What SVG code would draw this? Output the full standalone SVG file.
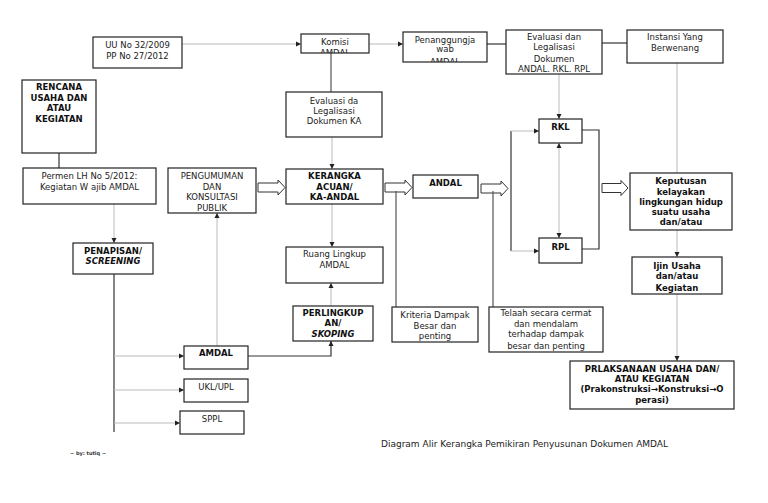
<svg xmlns="http://www.w3.org/2000/svg" width="768" height="503" viewBox="0 0 768 503">
<style>
.b{fill:#fff;stroke:#222;stroke-width:1.2}
.t{font-family:"DejaVu Sans",sans-serif;font-size:8.5px;fill:#222;text-anchor:middle}
.tb{font-family:"DejaVu Sans",sans-serif;font-size:8.5px;fill:#111;text-anchor:middle;font-weight:bold}
.lg{stroke:#bbb;stroke-width:1;fill:none}
.dk{stroke:#333;stroke-width:1.2;fill:none}
.md{stroke:#555;stroke-width:1.2;fill:none}
.ha{fill:#fff;stroke:#333;stroke-width:1}
</style>
<defs>
<marker id="ar" markerUnits="userSpaceOnUse" markerWidth="6" markerHeight="6" refX="5" refY="3" orient="auto"><path d="M0,0.5 L5,3 L0,5.5 z" fill="#222"/></marker>
<marker id="as" markerUnits="userSpaceOnUse" markerWidth="6" markerHeight="6" refX="0" refY="3" orient="auto"><path d="M5,0.5 L0,3 L5,5.5 z" fill="#222"/></marker>
<clipPath id="ck"><rect x="301" y="34" width="68" height="19"/></clipPath>
<clipPath id="cp"><rect x="403" y="32" width="84" height="30"/></clipPath>
<clipPath id="ci"><rect x="632" y="257" width="90" height="37"/></clipPath>
</defs>
<rect width="768" height="503" fill="#fff"/>
<g id="connectors">
<line class="lg" x1="182" y1="44" x2="301" y2="44" marker-end="url(#ar)"/>
<line class="lg" x1="369" y1="44" x2="403" y2="44" marker-end="url(#ar)"/>
<line class="dk" x1="487" y1="44" x2="506" y2="44"/>
<line class="dk" x1="602" y1="43" x2="627" y2="43"/>
<line class="md" x1="331" y1="53" x2="331" y2="92"/>
<line class="lg" x1="332" y1="137" x2="332" y2="169" marker-end="url(#ar)"/>
<line class="lg" x1="332" y1="204" x2="332" y2="247" marker-end="url(#ar)"/>
<line class="lg" x1="331" y1="306" x2="331" y2="283" marker-end="url(#ar)"/>
<polyline class="dk" points="248,356 331,356 331,341" marker-end="url(#ar)"/>
<line class="lg" x1="217" y1="346" x2="217" y2="213" marker-end="url(#ar)"/>
<line class="dk" x1="59" y1="153" x2="59" y2="168"/>
<line class="lg" x1="114" y1="204" x2="114" y2="243" marker-end="url(#ar)"/>
<line class="dk" x1="114" y1="274" x2="114" y2="432"/>
<line class="lg" x1="114" y1="356" x2="184" y2="356" marker-end="url(#ar)"/>
<line class="lg" x1="114" y1="390" x2="184" y2="390" marker-end="url(#ar)"/>
<line class="lg" x1="114" y1="423" x2="180" y2="423" marker-end="url(#ar)"/>
<polygon class="ha" points="258,183 278,183 278,180 285,187.5 278,195 278,192 258,192"/>
<polygon class="ha" points="385,183 405,183 405,180 412,187.5 405,195 405,192 385,192"/>
<polygon class="ha" points="481,184 501,184 501,181 508,188.5 501,196 501,193 481,193"/>
<polygon class="ha" points="602,183.5 621,183.5 621,180.5 628,188 621,195.5 621,192.5 602,192.5"/>
<line class="md" x1="396" y1="191" x2="396" y2="307"/>
<line class="md" x1="493" y1="191" x2="493" y2="307"/>
<line class="dk" x1="511" y1="131" x2="511" y2="251"/>
<line class="lg" x1="511" y1="131" x2="539" y2="131" marker-end="url(#ar)"/>
<line class="lg" x1="511" y1="251" x2="539" y2="251" marker-end="url(#ar)"/>
<polyline class="dk" points="582,130 599,130 599,249 582,249"/>
<line class="lg" x1="559" y1="143" x2="559" y2="238" marker-start="url(#as)" marker-end="url(#ar)"/>
<line class="lg" x1="559" y1="74" x2="559" y2="119" marker-end="url(#ar)"/>
<line class="lg" x1="677" y1="63" x2="677" y2="173"/>
<line class="lg" x1="677" y1="230" x2="677" y2="257" marker-end="url(#ar)"/>
<line class="lg" x1="677" y1="294" x2="677" y2="361" marker-end="url(#ar)"/>
</g>
<g id="uu"><rect class="b" x="93" y="37" width="89" height="31"/><text class="t" x="137.5" y="48">UU No 32/2009</text><text class="t" x="137.5" y="59">PP No 27/2012</text></g>
<g id="rencana"><rect class="b" x="22" y="80" width="74" height="73"/><text class="tb" x="59" y="90">RENCANA</text><text class="tb" x="59" y="101">USAHA DAN</text><text class="tb" x="59" y="111">ATAU</text><text class="tb" x="59" y="122">KEGIATAN</text></g>
<g id="komisi"><rect class="b" x="301" y="34" width="68" height="19"/><g clip-path="url(#ck)"><text class="t" x="335" y="45">Komisi</text><text class="t" x="335" y="56">AMDAL</text></g></g>
<g id="penanggung"><rect class="b" x="403" y="32" width="84" height="30"/><g clip-path="url(#cp)"><text class="t" x="445" y="43">Penanggungja</text><text class="t" x="445" y="52">wab</text><text class="t" x="445" y="65">AMDAL</text></g></g>
<g id="evaluasi-andal"><rect class="b" x="506" y="30" width="96" height="44"/><text class="t" x="554" y="40">Evaluasi dan</text><text class="t" x="554" y="50">Legalisasi</text><text class="t" x="554" y="62">Dokumen</text><text class="t" x="554" y="72">ANDAL. RKL. RPL</text></g>
<g id="instansi"><rect class="b" x="627" y="30" width="96" height="33"/><text class="t" x="675" y="40">Instansi Yang</text><text class="t" x="675" y="51">Berwenang</text></g>
<g id="evaluasi-ka"><rect class="b" x="286" y="92" width="96" height="45"/><text class="t" x="334" y="104">Evaluasi da</text><text class="t" x="334" y="114">Legalisasi</text><text class="t" x="334" y="124">Dokumen KA</text></g>
<g id="permen"><rect class="b" x="23" y="168" width="133" height="36"/><text class="t" x="89.5" y="179">Permen LH No 5/2012:</text><text class="t" x="89.5" y="190">Kegiatan W ajib AMDAL</text></g>
<g id="pengumuman"><rect class="b" x="168" y="168" width="88" height="45"/><text class="t" x="212" y="179">PENGUMUMAN</text><text class="t" x="212" y="190">DAN</text><text class="t" x="212" y="200">KONSULTASI</text><text class="t" x="212" y="211">PUBLIK</text></g>
<g id="kerangka"><rect class="b" x="286" y="169" width="97" height="35"/><text class="tb" x="334.5" y="179">KERANGKA</text><text class="tb" x="334.5" y="190">ACUAN/</text><text class="tb" x="334.5" y="200">KA-ANDAL</text></g>
<g id="andal"><rect class="b" x="413" y="175" width="65" height="23"/><text class="tb" x="445.5" y="186">ANDAL</text></g>
<g id="rkl"><rect class="b" x="539" y="119" width="43" height="24"/><text class="tb" x="560.5" y="130">RKL</text></g>
<g id="rpl"><rect class="b" x="539" y="238" width="43" height="25"/><text class="tb" x="560.5" y="250">RPL</text></g>
<g id="keputusan"><rect class="b" x="630" y="173" width="102" height="57"/><text class="tb" x="681" y="184">Keputusan</text><text class="tb" x="681" y="195">kelayakan</text><text class="tb" x="681" y="205">lingkungan hidup</text><text class="tb" x="681" y="215">suatu usaha</text><text class="tb" x="681" y="225">dan/atau</text></g>
<g id="ijin"><rect class="b" x="632" y="257" width="90" height="37"/><g clip-path="url(#ci)"><text class="tb" x="677" y="269">Ijin Usaha</text><text class="tb" x="677" y="279">dan/atau</text><text class="tb" x="677" y="291">Kegiatan</text></g></g>
<g id="penapisan"><rect class="b" x="73" y="243" width="80" height="31"/><text class="tb" x="113" y="254">PENAPISAN/</text><text class="tb" x="113" y="264" font-style="italic">SCREENING</text></g>
<g id="ruang"><rect class="b" x="286" y="247" width="97" height="36"/><text class="t" x="334.5" y="257">Ruang Lingkup</text><text class="t" x="334.5" y="268">AMDAL</text></g>
<g id="perlingkupan"><rect class="b" x="293" y="306" width="80" height="35"/><text class="tb" x="333" y="316">PERLINGKUP</text><text class="tb" x="333" y="326">AN/</text><text class="tb" x="333" y="337" font-style="italic">SKOPING</text></g>
<g id="kriteria"><rect class="b" x="392" y="307" width="86" height="35"/><text class="t" x="435" y="318">Kriteria Dampak</text><text class="t" x="435" y="329">Besar dan</text><text class="t" x="435" y="339">penting</text></g>
<g id="telaah"><rect class="b" x="489" y="307" width="114" height="45"/><text class="t" x="546" y="316">Telaah secara cermat</text><text class="t" x="546" y="327">dan mendalam</text><text class="t" x="546" y="337">terhadap dampak</text><text class="t" x="546" y="349">besar dan penting</text></g>
<g id="amdal"><rect class="b" x="184" y="346" width="64" height="23"/><text class="tb" x="216" y="356">AMDAL</text></g>
<g id="ukl"><rect class="b" x="184" y="379" width="64" height="23"/><text class="t" x="216" y="390">UKL/UPL</text></g>
<g id="sppl"><rect class="b" x="180" y="411" width="64" height="23"/><text class="t" x="212" y="422">SPPL</text></g>
<g id="pelaksanaan"><rect class="b" x="570" y="361" width="164" height="48"/><text class="tb" x="652" y="372">PRLAKSANAAN USAHA DAN/</text><text class="tb" x="652" y="382">ATAU KEGIATAN</text><text class="tb" x="652" y="392">(Prakonstruksi→Konstruksi→O</text><text class="tb" x="652" y="403">perasi)</text></g>
<text x="381" y="447" style="font-family:'DejaVu Sans',sans-serif;font-size:9px;fill:#222">Diagram Alir Kerangka Pemikiran Penyusunan Dokumen AMDAL</text>
<text x="70" y="455" style="font-family:'DejaVu Sans',sans-serif;font-size:5px;fill:#333;font-weight:bold">~ by: tutiq  ~</text>
</svg>
